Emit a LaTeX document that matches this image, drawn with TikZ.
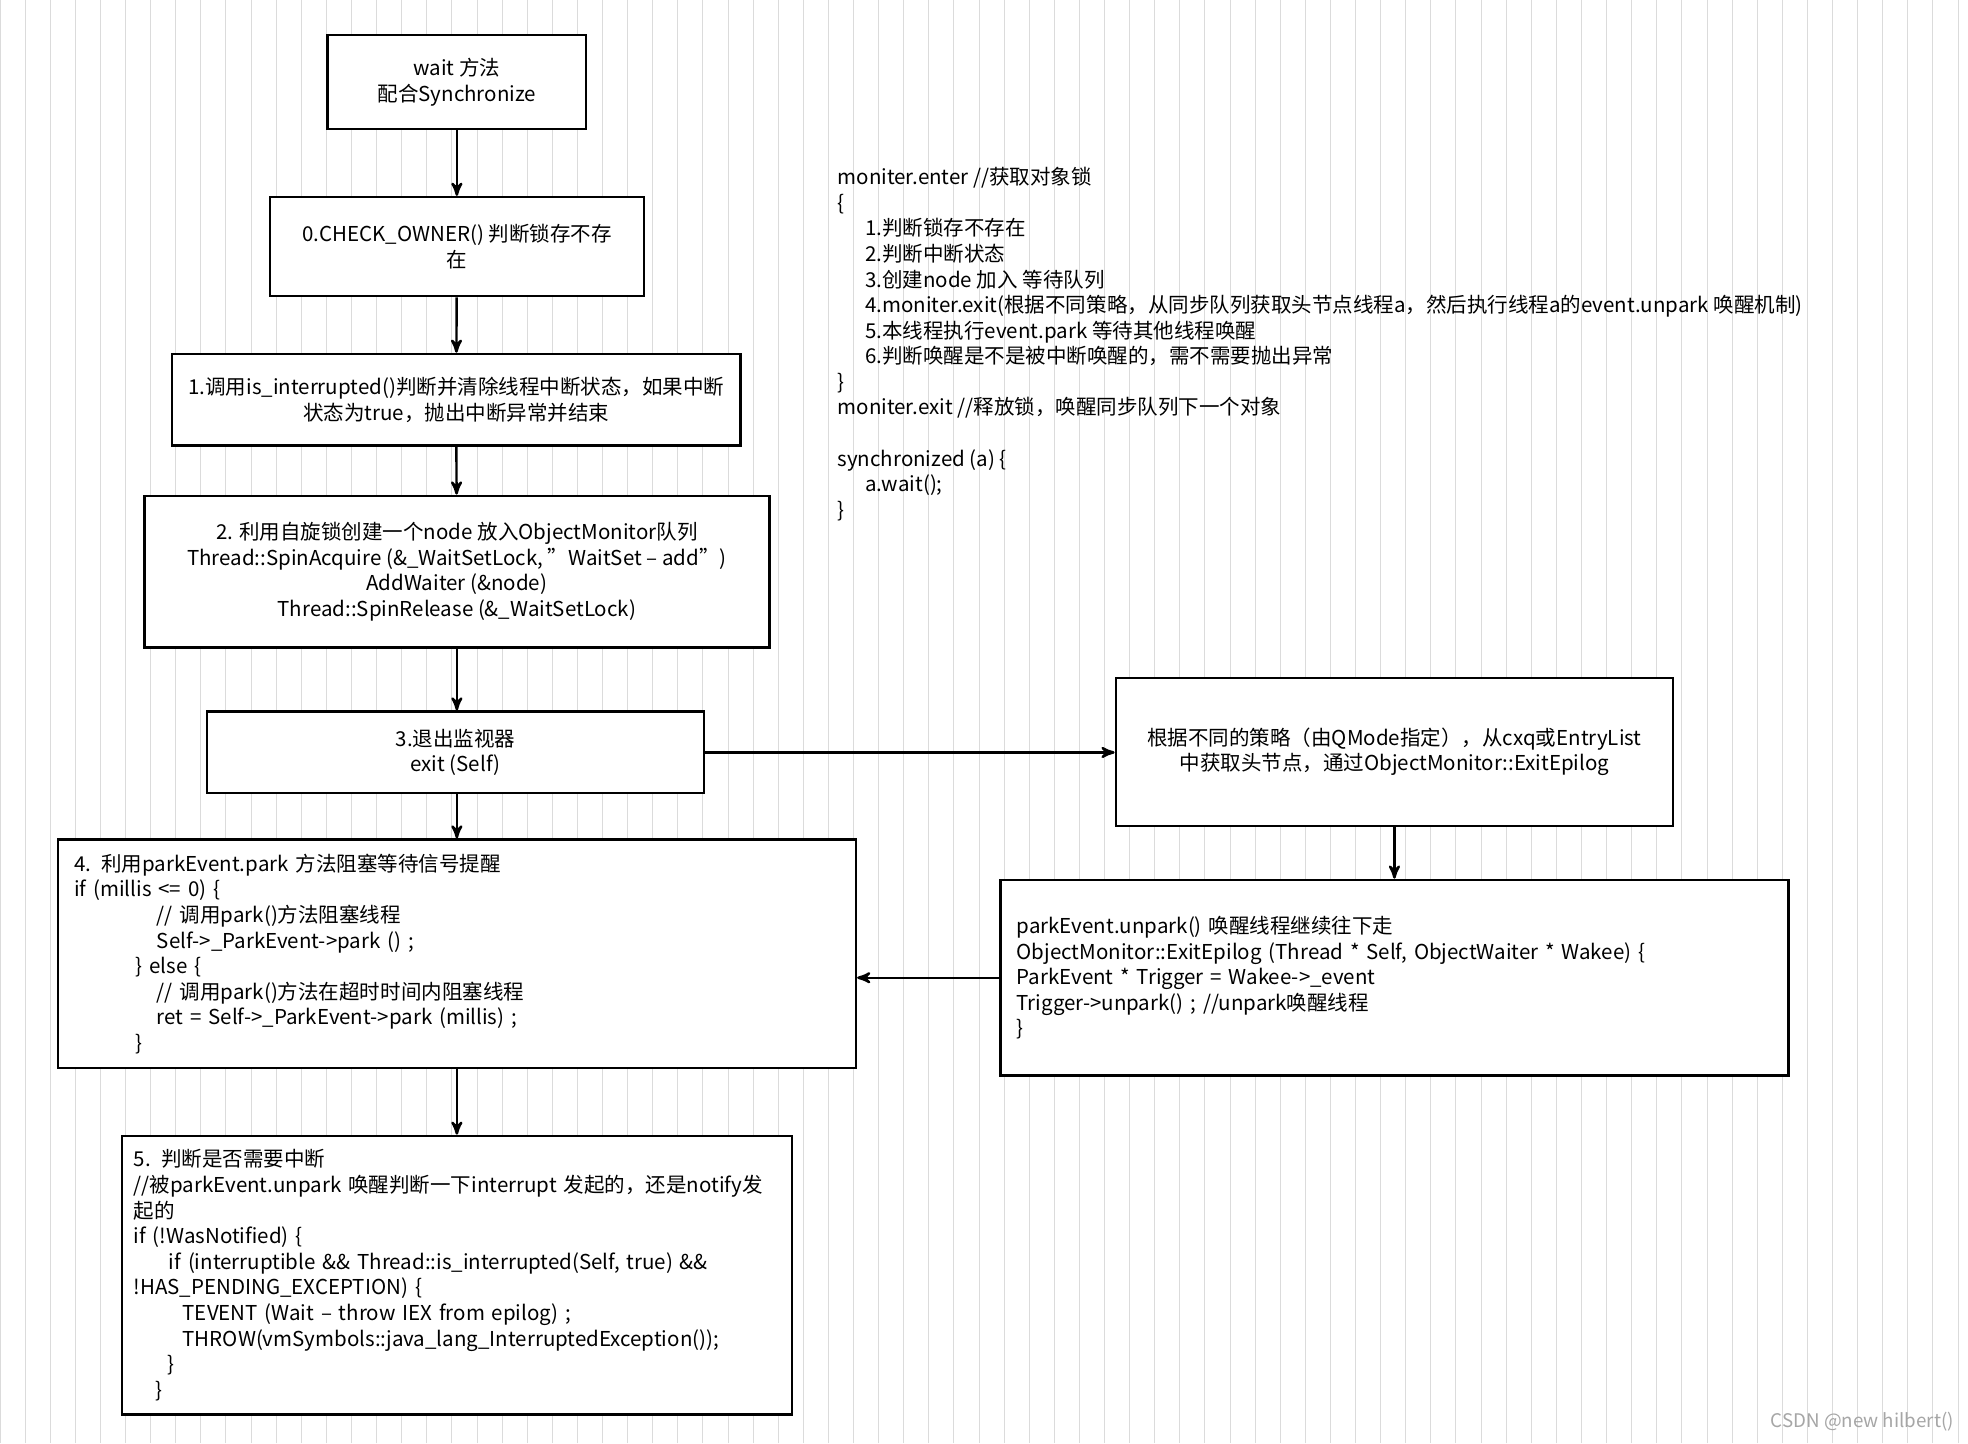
\documentclass[tikz,border=0pt]{standalone}
\usepackage{fontspec}
\setmainfont{Noto Sans CJK SC}
\usetikzlibrary{arrows}
\usetikzlibrary{calc}
\tikzstyle{block} = [rectangle, inner sep=0pt, text centered, line width=1.1pt, draw=black, font=\fontsize{9.3}{11.6}\selectfont, align=center]
\tikzstyle{code} = [block, align=left]
\tikzstyle{arrow} = [->,>=stealth',line width=1.1pt]
\tikzstyle{gridline} = [draw=gray!28, line width=0.4pt]
\newcommand{\ind}[1]{\hspace*{#1cm}}
\newcommand{\dq}{\char"0022\relax}

\begin{document}
\begin{tikzpicture}[x=0.02cm, y=-0.02cm]

  % background paper
  \useasboundingbox (0,0) rectangle (1568,1150);
  \fill[white] (0,0) rectangle (1568,1150);
  \draw[gridline] (0,0) grid[step=20] (1568,1150);

  \node (start) [block, fill=white, minimum width=4.12cm, minimum height=1.5cm] at (364,65.5) {wait 方法\\配合Synchronize};
  \node (owner) [block, fill=white, minimum width=5.96cm, minimum height=1.58cm] at (364,196.5) {0.CHECK\_OWNER() 判断锁存不存\\在};
  \node (intr) [block, fill=white, minimum width=9.06cm, minimum height=1.46cm] at (363.5,318.5) {1.调用is\_interrupted()判断并清除线程中断状态，如果中断\\状态为true，抛出中断异常并结束};
  \node (spin) [block, fill=white, minimum width=9.96cm, minimum height=2.42cm] at (364,455.5) {2. 利用自旋锁创建一个node 放入ObjectMonitor队列\\Thread::SpinAcquire (\&\_WaitSetLock, \dq WaitSet -- add\dq)\\AddWaiter (\&node)\\Thread::SpinRelease (\&\_WaitSetLock)};
  \node (exit) [block, fill=white, minimum width=7.92cm, minimum height=1.3cm] at (363,599.5) {3.退出监视器\\exit (Self)};
  \node (park) [code, fill=white, minimum width=12.72cm, minimum height=3.64cm, text width=12.2cm] at (364,760) {4. 利用parkEvent.park 方法阻塞等待信号提醒\\if (millis <= 0) \{\\\ind{1.32}// 调用park()方法阻塞线程\\\ind{1.32}Self->\_ParkEvent->park () ;\\\ind{0.98}\} else \{\\\ind{1.32}// 调用park()方法在超时时间内阻塞线程\\\ind{1.32}ret = Self->\_ParkEvent->park (millis) ;\\\ind{0.98}\}};
  \node (notify) [code, fill=white, minimum width=10.68cm, minimum height=4.44cm, text width=10.3cm] at (364,1016) {5. 判断是否需要中断\\//被parkEvent.unpark 唤醒判断一下interrupt 发起的，还是notify发\\起的\\if (!WasNotified) \{\\\ind{0.56}if (interruptible \&\& Thread::is\_interrupted(Self, true) \&\&\\!HAS\_PENDING\_EXCEPTION) \{\\\ind{0.78}TEVENT (Wait -- throw IEX from epilog) ;\\\ind{0.78}THROW(vmSymbols::java\_lang\_InterruptedException());\\\ind{0.54}\}\\\ind{0.34}\}};
  \node (qmode) [block, fill=white, minimum width=8.88cm, minimum height=2.36cm] at (1111,599) {根据不同的策略（由QMode指定），从cxq或EntryList\\中获取头节点，通过ObjectMonitor::ExitEpilog};
  \node (unpark) [code, fill=white, minimum width=12.56cm, minimum height=3.12cm, text width=12.04cm] at (1111,779) {parkEvent.unpark() 唤醒线程继续往下走\\ObjectMonitor::ExitEpilog (Thread * Self, ObjectWaiter * Wakee) \{\\ParkEvent * Trigger = Wakee->\_event\\Trigger->unpark() ; //unpark唤醒线程\\\}};

  % free notes
  \node (notes) [anchor=north west, align=left, inner sep=0pt, font=\fontsize{9.3}{11.6}\selectfont] at (667,133) {moniter.enter //获取对象锁\\\{\\\ind{0.44}1.判断锁存不存在\\\ind{0.44}2.判断中断状态\\\ind{0.44}3.创建node 加入 等待队列\\\ind{0.44}4.moniter.exit(根据不同策略，从同步队列获取头节点线程a，然后执行线程a的event.unpark 唤醒机制)\\\ind{0.44}5.本线程执行event.park 等待其他线程唤醒\\\ind{0.44}6.判断唤醒是不是被中断唤醒的，需不需要抛出异常\\\}\\moniter.exit //释放锁，唤醒同步队列下一个对象\\[11.6pt]synchronized (a) \{\\\ind{0.44}a.wait();\\\}};

  \node (mark) [anchor=south east, inner sep=0pt, text=gray!70, font=\fontsize{8.5}{10}\selectfont] at (1557,1141) {CSDN @new hilbert()};

  % main flow
  \draw [arrow] (start) -- (owner);
  \draw [arrow] (owner) -- (intr);
  \draw [arrow] (intr) -- (spin);
  \draw [arrow] (spin.south) -- (spin.south |- exit.north);
  \draw [arrow] (spin.south |- exit.south) -- (park.north);
  \draw [arrow] (park) -- (notify);

  % wake-up path
  \draw [arrow] (exit.east) -- (qmode.west |- exit.east);
  \draw [arrow] (qmode) -- (unpark);
  \draw [arrow] (unpark.west) -- (park.east |- unpark.west);

\end{tikzpicture}
\end{document}
